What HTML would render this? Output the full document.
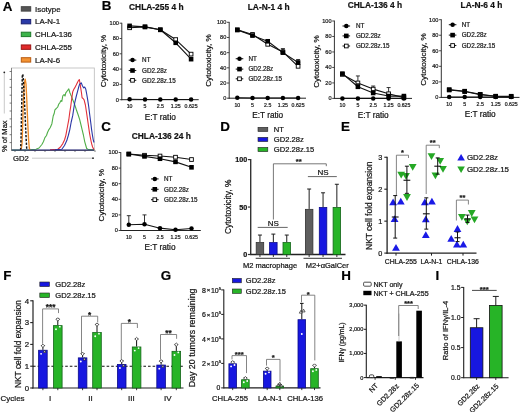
<!DOCTYPE html>
<html><head><meta charset="utf-8"><title>Figure</title>
<style>html,body{margin:0;padding:0;background:#fff;overflow:hidden;}svg{display:block;filter:blur(0.3px);} text{stroke:#1a1a1a;stroke-width:0.22px;}</style></head>
<body><svg width="520" height="412" viewBox="0 0 520 412" font-family="'Liberation Sans', Arial, Helvetica, sans-serif">
<rect width="520" height="412" fill="#fff"/>
<text x="2.70" y="10.60" font-size="13.4" text-anchor="start" font-weight="bold" fill="#000">A</text>
<text x="101.70" y="10.40" font-size="13.4" text-anchor="start" font-weight="bold" fill="#000">B</text>
<text x="101.30" y="131.00" font-size="13.4" text-anchor="start" font-weight="bold" fill="#000">C</text>
<text x="220.30" y="131.40" font-size="13.4" text-anchor="start" font-weight="bold" fill="#000">D</text>
<text x="341.10" y="131.00" font-size="13.4" text-anchor="start" font-weight="bold" fill="#000">E</text>
<text x="3.20" y="279.70" font-size="13.4" text-anchor="start" font-weight="bold" fill="#000">F</text>
<text x="160.80" y="280.00" font-size="13.4" text-anchor="start" font-weight="bold" fill="#000">G</text>
<text x="341.30" y="279.80" font-size="13.4" text-anchor="start" font-weight="bold" fill="#000">H</text>
<text x="435.50" y="279.60" font-size="13.4" text-anchor="start" font-weight="bold" fill="#000">I</text>
<rect x="21.30" y="6.70" width="9.40" height="4.40" fill="#555555" stroke="#444444" stroke-width="1.0"/>
<text x="35.10" y="11.70" font-size="7.9" text-anchor="start" fill="#111">Isotype</text>
<rect x="21.30" y="19.45" width="9.40" height="4.40" fill="#2a3aa8" stroke="#1a1f70" stroke-width="1.0"/>
<text x="35.10" y="24.45" font-size="7.9" text-anchor="start" fill="#111">LA-N-1</text>
<rect x="21.30" y="32.20" width="9.40" height="4.40" fill="#3cb44a" stroke="#1d7a2a" stroke-width="1.0"/>
<text x="35.10" y="37.20" font-size="7.9" text-anchor="start" fill="#111">CHLA-136</text>
<rect x="21.30" y="44.95" width="9.40" height="4.40" fill="#e02a2a" stroke="#9a1515" stroke-width="1.0"/>
<text x="35.10" y="49.95" font-size="7.9" text-anchor="start" fill="#111">CHLA-255</text>
<rect x="21.30" y="57.70" width="9.40" height="4.40" fill="#f39333" stroke="#b85a10" stroke-width="1.0"/>
<text x="35.10" y="62.70" font-size="7.9" text-anchor="start" fill="#111">LA-N-6</text>
<rect x="11.50" y="68.00" width="82.80" height="82.30" fill="none" stroke="#b9b9b9" stroke-width="0.8"/>
<line x1="11.50" y1="68.00" x2="11.50" y2="150.30" stroke="#777" stroke-width="0.8"/>
<line x1="9.60" y1="71.50" x2="11.50" y2="71.50" stroke="#444" stroke-width="0.7"/>
<line x1="9.60" y1="79.40" x2="11.50" y2="79.40" stroke="#444" stroke-width="0.7"/>
<line x1="9.60" y1="87.30" x2="11.50" y2="87.30" stroke="#444" stroke-width="0.7"/>
<line x1="9.60" y1="95.20" x2="11.50" y2="95.20" stroke="#444" stroke-width="0.7"/>
<line x1="9.60" y1="103.10" x2="11.50" y2="103.10" stroke="#444" stroke-width="0.7"/>
<line x1="9.60" y1="111.00" x2="11.50" y2="111.00" stroke="#444" stroke-width="0.7"/>
<line x1="9.60" y1="118.90" x2="11.50" y2="118.90" stroke="#444" stroke-width="0.7"/>
<line x1="9.60" y1="126.80" x2="11.50" y2="126.80" stroke="#444" stroke-width="0.7"/>
<line x1="9.60" y1="134.70" x2="11.50" y2="134.70" stroke="#444" stroke-width="0.7"/>
<line x1="9.60" y1="142.60" x2="11.50" y2="142.60" stroke="#444" stroke-width="0.7"/>
<line x1="11.50" y1="150.30" x2="94.30" y2="150.30" stroke="#333" stroke-width="0.9"/>
<line x1="15.00" y1="150.30" x2="15.00" y2="152.00" stroke="#444" stroke-width="0.7"/>
<line x1="25.00" y1="150.30" x2="25.00" y2="152.00" stroke="#444" stroke-width="0.7"/>
<line x1="35.00" y1="150.30" x2="35.00" y2="152.00" stroke="#444" stroke-width="0.7"/>
<line x1="45.00" y1="150.30" x2="45.00" y2="152.00" stroke="#444" stroke-width="0.7"/>
<line x1="55.00" y1="150.30" x2="55.00" y2="152.00" stroke="#444" stroke-width="0.7"/>
<line x1="65.00" y1="150.30" x2="65.00" y2="152.00" stroke="#444" stroke-width="0.7"/>
<line x1="75.00" y1="150.30" x2="75.00" y2="152.00" stroke="#444" stroke-width="0.7"/>
<line x1="85.00" y1="150.30" x2="85.00" y2="152.00" stroke="#444" stroke-width="0.7"/>
<line x1="95.00" y1="150.30" x2="95.00" y2="152.00" stroke="#444" stroke-width="0.7"/>
<polyline points="12.00,150.00 30.00,149.80 36.00,149.20 39.00,148.00 41.90,144.50 43.50,141.50 44.90,137.60 46.50,135.50 47.50,132.50 48.90,129.60 50.30,127.50 51.90,123.70 53.20,116.00 54.20,113.50 54.90,109.80 56.30,108.50 57.80,106.80 58.80,104.00 59.80,102.80 61.00,100.50 61.80,101.50 62.80,95.80 64.00,94.50 65.00,96.00 65.80,92.90 67.20,91.00 68.80,88.90 69.80,92.50 70.80,94.90 71.60,96.50 72.70,99.80 73.70,102.00 74.70,104.80 75.80,108.00 76.70,110.80 78.20,115.00 79.70,119.70 81.00,125.00 82.10,129.60 83.40,135.00 84.70,141.60 85.80,145.50 86.70,148.50 88.50,149.60 94.20,149.80" fill="none" stroke="#4fae48" stroke-width="1.1" stroke-linejoin="round"/>
<polyline points="50.00,149.80 57.80,149.20 60.50,147.00 62.80,143.60 64.50,140.00 65.80,135.60 67.40,127.00 68.80,119.70 69.80,112.00 70.80,105.80 71.80,98.00 72.70,91.90 73.70,89.50 74.70,87.90 76.20,85.00 77.70,81.90 78.50,80.50 79.30,79.50 80.00,83.00 80.70,87.90 81.50,93.00 82.10,97.80 83.10,98.50 84.10,99.80 85.40,105.00 86.70,113.70 88.20,124.00 89.60,133.60 90.60,139.00 91.60,143.60 92.60,147.00 93.60,149.00 94.20,149.60" fill="none" stroke="#e2303a" stroke-width="1.1" stroke-linejoin="round"/>
<polyline points="55.00,149.80 61.80,149.20 64.50,145.50 66.80,140.60 68.30,135.50 69.80,129.60 71.20,122.00 72.70,115.70 73.70,109.00 74.70,102.80 76.20,96.50 77.70,90.90 78.70,87.00 79.70,83.90 80.50,83.50 81.30,82.90 82.50,86.00 83.70,87.90 84.70,87.00 85.70,88.90 86.70,94.00 87.70,99.80 88.70,106.50 89.60,113.70 90.60,121.50 91.60,129.60 92.40,135.00 93.20,139.60 94.00,142.50" fill="none" stroke="#2a36a6" stroke-width="1.1" stroke-linejoin="round"/>
<polyline points="21.20,150.00 22.00,144.00 22.70,125.00 23.40,100.00 24.30,84.00 25.20,79.20 26.00,84.00 26.80,100.00 27.70,122.00 28.60,140.00 29.30,148.00 29.80,150.00" fill="none" stroke="#f08a26" stroke-width="1.35" stroke-linejoin="round"/>
<polyline points="20.60,150.00 21.00,140.00 21.50,115.00 22.00,90.00 22.30,76.00 22.80,74.20 23.40,80.00 24.40,100.00 25.40,122.00 26.20,140.00 26.80,150.00" fill="none" stroke="#111" stroke-width="1.45" stroke-linejoin="round" stroke-dasharray="2.3,1.5"/>
<line x1="11.80" y1="150.00" x2="94.00" y2="150.00" stroke="#2a2a8a" stroke-width="0.9"/>
<text x="6.50" y="152.00" font-size="7.6" text-anchor="start" fill="#111" transform="rotate(-90 6.50 152.00)">% of Max</text>
<line x1="4.30" y1="113.50" x2="4.30" y2="72.50" stroke="#bbb" stroke-width="0.8"/>
<circle cx="4.30" cy="72.30" r="0.9" fill="#222" stroke="none" stroke-width="0"/>
<text x="13.00" y="160.50" font-size="7.7" text-anchor="start" fill="#111">GD2</text>
<line x1="32.00" y1="158.20" x2="92.50" y2="158.20" stroke="#bbb" stroke-width="0.8"/>
<circle cx="93.00" cy="158.20" r="0.9" fill="#222" stroke="none" stroke-width="0"/>
<line x1="121.80" y1="22.80" x2="121.80" y2="100.20" stroke="#333" stroke-width="1.0"/>
<line x1="121.30" y1="99.70" x2="198.70" y2="99.70" stroke="#222" stroke-width="1.0"/>
<line x1="119.60" y1="99.70" x2="121.80" y2="99.70" stroke="#333" stroke-width="0.9"/>
<text x="118.90" y="101.60" font-size="5.6" text-anchor="end" fill="#222">0</text>
<line x1="119.60" y1="84.40" x2="121.80" y2="84.40" stroke="#333" stroke-width="0.9"/>
<text x="118.90" y="86.30" font-size="5.6" text-anchor="end" fill="#222">20</text>
<line x1="119.60" y1="69.10" x2="121.80" y2="69.10" stroke="#333" stroke-width="0.9"/>
<text x="118.90" y="71.00" font-size="5.6" text-anchor="end" fill="#222">40</text>
<line x1="119.60" y1="53.80" x2="121.80" y2="53.80" stroke="#333" stroke-width="0.9"/>
<text x="118.90" y="55.70" font-size="5.6" text-anchor="end" fill="#222">60</text>
<line x1="119.60" y1="38.50" x2="121.80" y2="38.50" stroke="#333" stroke-width="0.9"/>
<text x="118.90" y="40.40" font-size="5.6" text-anchor="end" fill="#222">80</text>
<line x1="119.60" y1="23.20" x2="121.80" y2="23.20" stroke="#333" stroke-width="0.9"/>
<text x="118.90" y="25.10" font-size="5.6" text-anchor="end" fill="#222">100</text>
<text x="129.60" y="108.10" font-size="5.2" text-anchor="middle" fill="#222">10</text>
<text x="145.00" y="108.10" font-size="5.2" text-anchor="middle" fill="#222">5</text>
<text x="160.30" y="108.10" font-size="5.2" text-anchor="middle" fill="#222">2.5</text>
<text x="175.70" y="108.10" font-size="5.2" text-anchor="middle" fill="#222">1.25</text>
<text x="191.10" y="108.10" font-size="5.2" text-anchor="middle" fill="#222">0.625</text>
<text x="160.30" y="119.60" font-size="8.25" text-anchor="middle" fill="#111">E:T ratio</text>
<text x="105.75" y="60.90" font-size="8.1" text-anchor="middle" fill="#111" transform="rotate(-90 105.75 60.90)">Cytotoxicity, %</text>
<text x="156.30" y="9.60" font-size="8.4" text-anchor="middle" font-weight="bold" fill="#111">CHLA-255 4 h</text>
<polyline points="129.60,27.79 145.00,26.87 160.30,29.78 175.70,39.57 191.10,54.11" fill="none" stroke="#111" stroke-width="1.1" stroke-linejoin="round"/>
<rect x="127.75" y="25.94" width="3.70" height="3.70" fill="#fff" stroke="#000" stroke-width="0.9"/>
<rect x="143.15" y="25.02" width="3.70" height="3.70" fill="#fff" stroke="#000" stroke-width="0.9"/>
<rect x="158.45" y="27.93" width="3.70" height="3.70" fill="#fff" stroke="#000" stroke-width="0.9"/>
<rect x="173.85" y="37.72" width="3.70" height="3.70" fill="#fff" stroke="#000" stroke-width="0.9"/>
<rect x="189.25" y="52.26" width="3.70" height="3.70" fill="#fff" stroke="#000" stroke-width="0.9"/>
<polyline points="129.60,25.88 145.00,26.87 160.30,29.78 175.70,42.78 191.10,59.16" fill="none" stroke="#111" stroke-width="1.1" stroke-linejoin="round"/>
<rect x="127.30" y="23.58" width="4.60" height="4.60" fill="#000" stroke="none" stroke-width="0"/>
<rect x="142.70" y="24.57" width="4.60" height="4.60" fill="#000" stroke="none" stroke-width="0"/>
<rect x="158.00" y="27.48" width="4.60" height="4.60" fill="#000" stroke="none" stroke-width="0"/>
<rect x="173.40" y="40.48" width="4.60" height="4.60" fill="#000" stroke="none" stroke-width="0"/>
<rect x="188.80" y="56.86" width="4.60" height="4.60" fill="#000" stroke="none" stroke-width="0"/>
<polyline points="129.60,99.32 145.00,99.47 160.30,99.47 175.70,99.47 191.10,99.47" fill="none" stroke="#111" stroke-width="1.1" stroke-linejoin="round"/>
<circle cx="129.60" cy="99.32" r="2.25" fill="#000" stroke="none" stroke-width="0"/>
<circle cx="145.00" cy="99.47" r="2.25" fill="#000" stroke="none" stroke-width="0"/>
<circle cx="160.30" cy="99.47" r="2.25" fill="#000" stroke="none" stroke-width="0"/>
<circle cx="175.70" cy="99.47" r="2.25" fill="#000" stroke="none" stroke-width="0"/>
<circle cx="191.10" cy="99.47" r="2.25" fill="#000" stroke="none" stroke-width="0"/>
<line x1="128.70" y1="60.10" x2="136.30" y2="60.10" stroke="#1e1e1e" stroke-width="1.1"/>
<circle cx="132.50" cy="60.10" r="2.25" fill="#000" stroke="none" stroke-width="0"/>
<text x="142.10" y="62.30" font-size="6.3" text-anchor="start" fill="#222">NT</text>
<line x1="128.70" y1="70.50" x2="136.30" y2="70.50" stroke="#1e1e1e" stroke-width="1.1"/>
<rect x="130.20" y="68.20" width="4.60" height="4.60" fill="#000" stroke="none" stroke-width="0"/>
<text x="142.10" y="72.70" font-size="6.3" text-anchor="start" fill="#222">GD2.28z</text>
<line x1="128.70" y1="80.30" x2="136.30" y2="80.30" stroke="#1e1e1e" stroke-width="1.1"/>
<rect x="130.65" y="78.45" width="3.70" height="3.70" fill="#fff" stroke="#000" stroke-width="0.9"/>
<text x="142.10" y="82.50" font-size="6.3" text-anchor="start" fill="#222">GD2.28z.15</text>
<line x1="229.20" y1="21.90" x2="229.20" y2="98.70" stroke="#333" stroke-width="1.0"/>
<line x1="228.70" y1="98.20" x2="306.00" y2="98.20" stroke="#222" stroke-width="1.0"/>
<line x1="227.00" y1="98.20" x2="229.20" y2="98.20" stroke="#333" stroke-width="0.9"/>
<text x="226.30" y="100.10" font-size="5.6" text-anchor="end" fill="#222">0</text>
<line x1="227.00" y1="83.02" x2="229.20" y2="83.02" stroke="#333" stroke-width="0.9"/>
<text x="226.30" y="84.92" font-size="5.6" text-anchor="end" fill="#222">20</text>
<line x1="227.00" y1="67.84" x2="229.20" y2="67.84" stroke="#333" stroke-width="0.9"/>
<text x="226.30" y="69.74" font-size="5.6" text-anchor="end" fill="#222">40</text>
<line x1="227.00" y1="52.66" x2="229.20" y2="52.66" stroke="#333" stroke-width="0.9"/>
<text x="226.30" y="54.56" font-size="5.6" text-anchor="end" fill="#222">60</text>
<line x1="227.00" y1="37.48" x2="229.20" y2="37.48" stroke="#333" stroke-width="0.9"/>
<text x="226.30" y="39.38" font-size="5.6" text-anchor="end" fill="#222">80</text>
<line x1="227.00" y1="22.30" x2="229.20" y2="22.30" stroke="#333" stroke-width="0.9"/>
<text x="226.30" y="24.20" font-size="5.6" text-anchor="end" fill="#222">100</text>
<text x="237.30" y="106.60" font-size="5.2" text-anchor="middle" fill="#222">10</text>
<text x="252.50" y="106.60" font-size="5.2" text-anchor="middle" fill="#222">5</text>
<text x="267.70" y="106.60" font-size="5.2" text-anchor="middle" fill="#222">2.5</text>
<text x="282.90" y="106.60" font-size="5.2" text-anchor="middle" fill="#222">1.25</text>
<text x="298.10" y="106.60" font-size="5.2" text-anchor="middle" fill="#222">0.625</text>
<text x="267.70" y="118.10" font-size="8.25" text-anchor="middle" fill="#111">E:T ratio</text>
<text x="211.15" y="60.50" font-size="8.1" text-anchor="middle" fill="#111" transform="rotate(-90 211.15 60.50)">Cytotoxicity, %</text>
<text x="268.70" y="9.50" font-size="8.4" text-anchor="middle" font-weight="bold" fill="#111">LA-N-1 4 h</text>
<line x1="282.90" y1="51.90" x2="282.90" y2="48.87" stroke="#1e1e1e" stroke-width="0.9"/>
<line x1="280.90" y1="48.87" x2="284.90" y2="48.87" stroke="#1e1e1e" stroke-width="0.9"/>
<line x1="298.10" y1="66.32" x2="298.10" y2="62.53" stroke="#1e1e1e" stroke-width="0.9"/>
<line x1="296.10" y1="62.53" x2="300.10" y2="62.53" stroke="#1e1e1e" stroke-width="0.9"/>
<polyline points="237.30,29.89 252.50,34.44 267.70,44.31 282.90,51.90 298.10,66.32" fill="none" stroke="#111" stroke-width="1.1" stroke-linejoin="round"/>
<rect x="235.45" y="28.04" width="3.70" height="3.70" fill="#fff" stroke="#000" stroke-width="0.9"/>
<rect x="250.65" y="32.59" width="3.70" height="3.70" fill="#fff" stroke="#000" stroke-width="0.9"/>
<rect x="265.85" y="42.46" width="3.70" height="3.70" fill="#fff" stroke="#000" stroke-width="0.9"/>
<rect x="281.05" y="50.05" width="3.70" height="3.70" fill="#fff" stroke="#000" stroke-width="0.9"/>
<rect x="296.25" y="64.47" width="3.70" height="3.70" fill="#fff" stroke="#000" stroke-width="0.9"/>
<line x1="282.90" y1="52.66" x2="282.90" y2="48.87" stroke="#1e1e1e" stroke-width="0.9"/>
<line x1="280.90" y1="48.87" x2="284.90" y2="48.87" stroke="#1e1e1e" stroke-width="0.9"/>
<line x1="298.10" y1="62.53" x2="298.10" y2="59.49" stroke="#1e1e1e" stroke-width="0.9"/>
<line x1="296.10" y1="59.49" x2="300.10" y2="59.49" stroke="#1e1e1e" stroke-width="0.9"/>
<polyline points="237.30,29.89 252.50,35.58 267.70,41.28 282.90,52.66 298.10,62.53" fill="none" stroke="#111" stroke-width="1.1" stroke-linejoin="round"/>
<rect x="235.00" y="27.59" width="4.60" height="4.60" fill="#000" stroke="none" stroke-width="0"/>
<rect x="250.20" y="33.28" width="4.60" height="4.60" fill="#000" stroke="none" stroke-width="0"/>
<rect x="265.40" y="38.98" width="4.60" height="4.60" fill="#000" stroke="none" stroke-width="0"/>
<rect x="280.60" y="50.36" width="4.60" height="4.60" fill="#000" stroke="none" stroke-width="0"/>
<rect x="295.80" y="60.23" width="4.60" height="4.60" fill="#000" stroke="none" stroke-width="0"/>
<polyline points="237.30,97.82 252.50,97.97 267.70,97.97 282.90,97.97 298.10,97.97" fill="none" stroke="#111" stroke-width="1.1" stroke-linejoin="round"/>
<circle cx="237.30" cy="97.82" r="2.25" fill="#000" stroke="none" stroke-width="0"/>
<circle cx="252.50" cy="97.97" r="2.25" fill="#000" stroke="none" stroke-width="0"/>
<circle cx="267.70" cy="97.97" r="2.25" fill="#000" stroke="none" stroke-width="0"/>
<circle cx="282.90" cy="97.97" r="2.25" fill="#000" stroke="none" stroke-width="0"/>
<circle cx="298.10" cy="97.97" r="2.25" fill="#000" stroke="none" stroke-width="0"/>
<line x1="235.70" y1="58.70" x2="243.30" y2="58.70" stroke="#1e1e1e" stroke-width="1.1"/>
<circle cx="239.50" cy="58.70" r="2.25" fill="#000" stroke="none" stroke-width="0"/>
<text x="248.40" y="60.90" font-size="6.3" text-anchor="start" fill="#222">NT</text>
<line x1="235.70" y1="69.10" x2="243.30" y2="69.10" stroke="#1e1e1e" stroke-width="1.1"/>
<rect x="237.20" y="66.80" width="4.60" height="4.60" fill="#000" stroke="none" stroke-width="0"/>
<text x="248.40" y="71.30" font-size="6.3" text-anchor="start" fill="#222">GD2.28z</text>
<line x1="235.70" y1="78.80" x2="243.30" y2="78.80" stroke="#1e1e1e" stroke-width="1.1"/>
<rect x="237.65" y="76.95" width="3.70" height="3.70" fill="#fff" stroke="#000" stroke-width="0.9"/>
<text x="248.40" y="81.00" font-size="6.3" text-anchor="start" fill="#222">GD2.28z.15</text>
<line x1="334.40" y1="20.60" x2="334.40" y2="98.90" stroke="#333" stroke-width="1.0"/>
<line x1="333.90" y1="98.40" x2="412.00" y2="98.40" stroke="#222" stroke-width="1.0"/>
<line x1="332.20" y1="98.40" x2="334.40" y2="98.40" stroke="#333" stroke-width="0.9"/>
<text x="331.50" y="100.30" font-size="5.6" text-anchor="end" fill="#222">0</text>
<line x1="332.20" y1="82.92" x2="334.40" y2="82.92" stroke="#333" stroke-width="0.9"/>
<text x="331.50" y="84.82" font-size="5.6" text-anchor="end" fill="#222">20</text>
<line x1="332.20" y1="67.44" x2="334.40" y2="67.44" stroke="#333" stroke-width="0.9"/>
<text x="331.50" y="69.34" font-size="5.6" text-anchor="end" fill="#222">40</text>
<line x1="332.20" y1="51.96" x2="334.40" y2="51.96" stroke="#333" stroke-width="0.9"/>
<text x="331.50" y="53.86" font-size="5.6" text-anchor="end" fill="#222">60</text>
<line x1="332.20" y1="36.48" x2="334.40" y2="36.48" stroke="#333" stroke-width="0.9"/>
<text x="331.50" y="38.38" font-size="5.6" text-anchor="end" fill="#222">80</text>
<line x1="332.20" y1="21.00" x2="334.40" y2="21.00" stroke="#333" stroke-width="0.9"/>
<text x="331.50" y="22.90" font-size="5.6" text-anchor="end" fill="#222">100</text>
<text x="342.40" y="106.80" font-size="5.2" text-anchor="middle" fill="#222">10</text>
<text x="357.90" y="106.80" font-size="5.2" text-anchor="middle" fill="#222">5</text>
<text x="373.20" y="106.80" font-size="5.2" text-anchor="middle" fill="#222">2.5</text>
<text x="388.60" y="106.80" font-size="5.2" text-anchor="middle" fill="#222">1.25</text>
<text x="403.90" y="106.80" font-size="5.2" text-anchor="middle" fill="#222">0.625</text>
<text x="373.20" y="118.30" font-size="8.25" text-anchor="middle" fill="#111">E:T ratio</text>
<text x="318.75" y="61.60" font-size="8.1" text-anchor="middle" fill="#111" transform="rotate(-90 318.75 61.60)">Cytotoxicity, %</text>
<text x="374.90" y="8.00" font-size="8.4" text-anchor="middle" font-weight="bold" fill="#111">CHLA-136 4 h</text>
<line x1="357.90" y1="82.92" x2="357.90" y2="75.95" stroke="#1e1e1e" stroke-width="0.9"/>
<line x1="355.90" y1="75.95" x2="359.90" y2="75.95" stroke="#1e1e1e" stroke-width="0.9"/>
<line x1="373.20" y1="89.11" x2="373.20" y2="86.02" stroke="#1e1e1e" stroke-width="0.9"/>
<line x1="371.20" y1="86.02" x2="375.20" y2="86.02" stroke="#1e1e1e" stroke-width="0.9"/>
<line x1="388.60" y1="93.76" x2="388.60" y2="87.56" stroke="#1e1e1e" stroke-width="0.9"/>
<line x1="386.60" y1="87.56" x2="390.60" y2="87.56" stroke="#1e1e1e" stroke-width="0.9"/>
<polyline points="342.40,74.41 357.90,82.92 373.20,89.11 388.60,93.76 403.90,97.63" fill="none" stroke="#111" stroke-width="1.1" stroke-linejoin="round"/>
<rect x="340.55" y="72.56" width="3.70" height="3.70" fill="#fff" stroke="#000" stroke-width="0.9"/>
<rect x="356.05" y="81.07" width="3.70" height="3.70" fill="#fff" stroke="#000" stroke-width="0.9"/>
<rect x="371.35" y="87.26" width="3.70" height="3.70" fill="#fff" stroke="#000" stroke-width="0.9"/>
<rect x="386.75" y="91.91" width="3.70" height="3.70" fill="#fff" stroke="#000" stroke-width="0.9"/>
<rect x="402.05" y="95.78" width="3.70" height="3.70" fill="#fff" stroke="#000" stroke-width="0.9"/>
<line x1="357.90" y1="86.79" x2="357.90" y2="83.69" stroke="#1e1e1e" stroke-width="0.9"/>
<line x1="355.90" y1="83.69" x2="359.90" y2="83.69" stroke="#1e1e1e" stroke-width="0.9"/>
<line x1="373.20" y1="92.98" x2="373.20" y2="90.66" stroke="#1e1e1e" stroke-width="0.9"/>
<line x1="371.20" y1="90.66" x2="375.20" y2="90.66" stroke="#1e1e1e" stroke-width="0.9"/>
<line x1="388.60" y1="96.08" x2="388.60" y2="94.53" stroke="#1e1e1e" stroke-width="0.9"/>
<line x1="386.60" y1="94.53" x2="390.60" y2="94.53" stroke="#1e1e1e" stroke-width="0.9"/>
<polyline points="342.40,73.63 357.90,86.79 373.20,92.98 388.60,96.08 403.90,96.08" fill="none" stroke="#111" stroke-width="1.1" stroke-linejoin="round"/>
<rect x="340.10" y="71.33" width="4.60" height="4.60" fill="#000" stroke="none" stroke-width="0"/>
<rect x="355.60" y="84.49" width="4.60" height="4.60" fill="#000" stroke="none" stroke-width="0"/>
<rect x="370.90" y="90.68" width="4.60" height="4.60" fill="#000" stroke="none" stroke-width="0"/>
<rect x="386.30" y="93.78" width="4.60" height="4.60" fill="#000" stroke="none" stroke-width="0"/>
<rect x="401.60" y="93.78" width="4.60" height="4.60" fill="#000" stroke="none" stroke-width="0"/>
<polyline points="342.40,98.40 357.90,98.40 373.20,98.40 388.60,98.40 403.90,98.40" fill="none" stroke="#111" stroke-width="1.1" stroke-linejoin="round"/>
<circle cx="342.40" cy="98.40" r="2.25" fill="#000" stroke="none" stroke-width="0"/>
<circle cx="357.90" cy="98.40" r="2.25" fill="#000" stroke="none" stroke-width="0"/>
<circle cx="373.20" cy="98.40" r="2.25" fill="#000" stroke="none" stroke-width="0"/>
<circle cx="388.60" cy="98.40" r="2.25" fill="#000" stroke="none" stroke-width="0"/>
<circle cx="403.90" cy="98.40" r="2.25" fill="#000" stroke="none" stroke-width="0"/>
<line x1="342.50" y1="26.00" x2="350.10" y2="26.00" stroke="#1e1e1e" stroke-width="1.1"/>
<circle cx="346.30" cy="26.00" r="2.25" fill="#000" stroke="none" stroke-width="0"/>
<text x="355.90" y="28.20" font-size="6.3" text-anchor="start" fill="#222">NT</text>
<line x1="342.50" y1="35.90" x2="350.10" y2="35.90" stroke="#1e1e1e" stroke-width="1.1"/>
<rect x="344.00" y="33.60" width="4.60" height="4.60" fill="#000" stroke="none" stroke-width="0"/>
<text x="355.90" y="38.10" font-size="6.3" text-anchor="start" fill="#222">GD2.28z</text>
<line x1="342.50" y1="46.00" x2="350.10" y2="46.00" stroke="#1e1e1e" stroke-width="1.1"/>
<rect x="344.45" y="44.15" width="3.70" height="3.70" fill="#fff" stroke="#000" stroke-width="0.9"/>
<text x="355.90" y="48.20" font-size="6.3" text-anchor="start" fill="#222">GD2.28z.15</text>
<line x1="441.30" y1="19.30" x2="441.30" y2="97.90" stroke="#333" stroke-width="1.0"/>
<line x1="440.80" y1="97.40" x2="519.50" y2="97.40" stroke="#222" stroke-width="1.0"/>
<line x1="439.10" y1="97.40" x2="441.30" y2="97.40" stroke="#333" stroke-width="0.9"/>
<text x="438.40" y="99.30" font-size="5.6" text-anchor="end" fill="#222">0</text>
<line x1="439.10" y1="81.86" x2="441.30" y2="81.86" stroke="#333" stroke-width="0.9"/>
<text x="438.40" y="83.76" font-size="5.6" text-anchor="end" fill="#222">20</text>
<line x1="439.10" y1="66.32" x2="441.30" y2="66.32" stroke="#333" stroke-width="0.9"/>
<text x="438.40" y="68.22" font-size="5.6" text-anchor="end" fill="#222">40</text>
<line x1="439.10" y1="50.78" x2="441.30" y2="50.78" stroke="#333" stroke-width="0.9"/>
<text x="438.40" y="52.68" font-size="5.6" text-anchor="end" fill="#222">60</text>
<line x1="439.10" y1="35.24" x2="441.30" y2="35.24" stroke="#333" stroke-width="0.9"/>
<text x="438.40" y="37.14" font-size="5.6" text-anchor="end" fill="#222">80</text>
<line x1="439.10" y1="19.70" x2="441.30" y2="19.70" stroke="#333" stroke-width="0.9"/>
<text x="438.40" y="21.60" font-size="5.6" text-anchor="end" fill="#222">100</text>
<text x="449.20" y="105.80" font-size="5.2" text-anchor="middle" fill="#222">10</text>
<text x="464.70" y="105.80" font-size="5.2" text-anchor="middle" fill="#222">5</text>
<text x="480.20" y="105.80" font-size="5.2" text-anchor="middle" fill="#222">2.5</text>
<text x="495.70" y="105.80" font-size="5.2" text-anchor="middle" fill="#222">1.25</text>
<text x="511.20" y="105.80" font-size="5.2" text-anchor="middle" fill="#222">0.625</text>
<text x="480.20" y="117.30" font-size="8.25" text-anchor="middle" fill="#111">E:T ratio</text>
<text x="425.95" y="59.50" font-size="8.1" text-anchor="middle" fill="#111" transform="rotate(-90 425.95 59.50)">Cytotoxicity, %</text>
<text x="481.50" y="7.50" font-size="8.4" text-anchor="middle" font-weight="bold" fill="#111">LA-N-6 4 h</text>
<polyline points="449.20,90.02 464.70,91.57 480.20,94.68 495.70,96.23 511.20,96.62" fill="none" stroke="#111" stroke-width="1.1" stroke-linejoin="round"/>
<rect x="447.35" y="88.17" width="3.70" height="3.70" fill="#fff" stroke="#000" stroke-width="0.9"/>
<rect x="462.85" y="89.72" width="3.70" height="3.70" fill="#fff" stroke="#000" stroke-width="0.9"/>
<rect x="478.35" y="92.83" width="3.70" height="3.70" fill="#fff" stroke="#000" stroke-width="0.9"/>
<rect x="493.85" y="94.38" width="3.70" height="3.70" fill="#fff" stroke="#000" stroke-width="0.9"/>
<rect x="509.35" y="94.77" width="3.70" height="3.70" fill="#fff" stroke="#000" stroke-width="0.9"/>
<polyline points="449.20,89.63 464.70,91.18 480.20,94.29 495.70,96.23 511.20,96.23" fill="none" stroke="#111" stroke-width="1.1" stroke-linejoin="round"/>
<rect x="446.90" y="87.33" width="4.60" height="4.60" fill="#000" stroke="none" stroke-width="0"/>
<rect x="462.40" y="88.88" width="4.60" height="4.60" fill="#000" stroke="none" stroke-width="0"/>
<rect x="477.90" y="91.99" width="4.60" height="4.60" fill="#000" stroke="none" stroke-width="0"/>
<rect x="493.40" y="93.93" width="4.60" height="4.60" fill="#000" stroke="none" stroke-width="0"/>
<rect x="508.90" y="93.93" width="4.60" height="4.60" fill="#000" stroke="none" stroke-width="0"/>
<polyline points="449.20,96.93 464.70,96.93 480.20,96.93 495.70,96.93 511.20,96.93" fill="none" stroke="#111" stroke-width="1.1" stroke-linejoin="round"/>
<circle cx="449.20" cy="96.93" r="2.25" fill="#000" stroke="none" stroke-width="0"/>
<circle cx="464.70" cy="96.93" r="2.25" fill="#000" stroke="none" stroke-width="0"/>
<circle cx="480.20" cy="96.93" r="2.25" fill="#000" stroke="none" stroke-width="0"/>
<circle cx="495.70" cy="96.93" r="2.25" fill="#000" stroke="none" stroke-width="0"/>
<circle cx="511.20" cy="96.93" r="2.25" fill="#000" stroke="none" stroke-width="0"/>
<line x1="448.80" y1="24.70" x2="456.40" y2="24.70" stroke="#1e1e1e" stroke-width="1.1"/>
<circle cx="452.60" cy="24.70" r="2.25" fill="#000" stroke="none" stroke-width="0"/>
<text x="461.70" y="26.90" font-size="6.3" text-anchor="start" fill="#222">NT</text>
<line x1="448.80" y1="35.10" x2="456.40" y2="35.10" stroke="#1e1e1e" stroke-width="1.1"/>
<rect x="450.30" y="32.80" width="4.60" height="4.60" fill="#000" stroke="none" stroke-width="0"/>
<text x="461.70" y="37.30" font-size="6.3" text-anchor="start" fill="#222">GD2.28z</text>
<line x1="448.80" y1="45.50" x2="456.40" y2="45.50" stroke="#1e1e1e" stroke-width="1.1"/>
<rect x="450.75" y="43.65" width="3.70" height="3.70" fill="#fff" stroke="#000" stroke-width="0.9"/>
<text x="461.70" y="47.70" font-size="6.3" text-anchor="start" fill="#222">GD2.28z.15</text>
<line x1="120.80" y1="152.10" x2="120.80" y2="231.00" stroke="#333" stroke-width="1.0"/>
<line x1="120.30" y1="230.50" x2="200.80" y2="230.50" stroke="#222" stroke-width="1.0"/>
<line x1="118.60" y1="230.50" x2="120.80" y2="230.50" stroke="#333" stroke-width="0.9"/>
<text x="117.90" y="232.40" font-size="5.6" text-anchor="end" fill="#222">0</text>
<line x1="118.60" y1="214.90" x2="120.80" y2="214.90" stroke="#333" stroke-width="0.9"/>
<text x="117.90" y="216.80" font-size="5.6" text-anchor="end" fill="#222">20</text>
<line x1="118.60" y1="199.30" x2="120.80" y2="199.30" stroke="#333" stroke-width="0.9"/>
<text x="117.90" y="201.20" font-size="5.6" text-anchor="end" fill="#222">40</text>
<line x1="118.60" y1="183.70" x2="120.80" y2="183.70" stroke="#333" stroke-width="0.9"/>
<text x="117.90" y="185.60" font-size="5.6" text-anchor="end" fill="#222">60</text>
<line x1="118.60" y1="168.10" x2="120.80" y2="168.10" stroke="#333" stroke-width="0.9"/>
<text x="117.90" y="170.00" font-size="5.6" text-anchor="end" fill="#222">80</text>
<line x1="118.60" y1="152.50" x2="120.80" y2="152.50" stroke="#333" stroke-width="0.9"/>
<text x="117.90" y="154.40" font-size="5.6" text-anchor="end" fill="#222">100</text>
<text x="128.80" y="238.90" font-size="5.2" text-anchor="middle" fill="#222">10</text>
<text x="144.50" y="238.90" font-size="5.2" text-anchor="middle" fill="#222">5</text>
<text x="160.00" y="238.90" font-size="5.2" text-anchor="middle" fill="#222">2.5</text>
<text x="175.50" y="238.90" font-size="5.2" text-anchor="middle" fill="#222">1.25</text>
<text x="191.50" y="238.90" font-size="5.2" text-anchor="middle" fill="#222">0.625</text>
<text x="160.00" y="250.40" font-size="8.25" text-anchor="middle" fill="#111">E:T ratio</text>
<text x="104.35" y="195.20" font-size="8.1" text-anchor="middle" fill="#111" transform="rotate(-90 104.35 195.20)">Cytotoxicity, %</text>
<text x="161.30" y="138.80" font-size="8.4" text-anchor="middle" font-weight="bold" fill="#111">CHLA-136 24 h</text>
<polyline points="128.80,154.06 144.50,155.23 160.00,156.01 175.50,157.18 191.50,159.52" fill="none" stroke="#111" stroke-width="1.1" stroke-linejoin="round"/>
<rect x="126.95" y="152.21" width="3.70" height="3.70" fill="#fff" stroke="#000" stroke-width="0.9"/>
<rect x="142.65" y="153.38" width="3.70" height="3.70" fill="#fff" stroke="#000" stroke-width="0.9"/>
<rect x="158.15" y="154.16" width="3.70" height="3.70" fill="#fff" stroke="#000" stroke-width="0.9"/>
<rect x="173.65" y="155.33" width="3.70" height="3.70" fill="#fff" stroke="#000" stroke-width="0.9"/>
<rect x="189.65" y="157.67" width="3.70" height="3.70" fill="#fff" stroke="#000" stroke-width="0.9"/>
<polyline points="128.80,154.06 144.50,156.40 160.00,158.74 175.50,161.86 191.50,167.32" fill="none" stroke="#111" stroke-width="1.1" stroke-linejoin="round"/>
<rect x="126.50" y="151.76" width="4.60" height="4.60" fill="#000" stroke="none" stroke-width="0"/>
<rect x="142.20" y="154.10" width="4.60" height="4.60" fill="#000" stroke="none" stroke-width="0"/>
<rect x="157.70" y="156.44" width="4.60" height="4.60" fill="#000" stroke="none" stroke-width="0"/>
<rect x="173.20" y="159.56" width="4.60" height="4.60" fill="#000" stroke="none" stroke-width="0"/>
<rect x="189.20" y="165.02" width="4.60" height="4.60" fill="#000" stroke="none" stroke-width="0"/>
<line x1="128.80" y1="224.73" x2="128.80" y2="215.68" stroke="#1e1e1e" stroke-width="0.9"/>
<line x1="126.80" y1="215.68" x2="130.80" y2="215.68" stroke="#1e1e1e" stroke-width="0.9"/>
<line x1="144.50" y1="224.26" x2="144.50" y2="214.90" stroke="#1e1e1e" stroke-width="0.9"/>
<line x1="142.50" y1="214.90" x2="146.50" y2="214.90" stroke="#1e1e1e" stroke-width="0.9"/>
<polyline points="128.80,224.73 144.50,224.26 160.00,228.16 175.50,229.72 191.50,228.55" fill="none" stroke="#111" stroke-width="1.1" stroke-linejoin="round"/>
<circle cx="128.80" cy="224.73" r="2.25" fill="#000" stroke="none" stroke-width="0"/>
<circle cx="144.50" cy="224.26" r="2.25" fill="#000" stroke="none" stroke-width="0"/>
<circle cx="160.00" cy="228.16" r="2.25" fill="#000" stroke="none" stroke-width="0"/>
<circle cx="175.50" cy="229.72" r="2.25" fill="#000" stroke="none" stroke-width="0"/>
<circle cx="191.50" cy="228.55" r="2.25" fill="#000" stroke="none" stroke-width="0"/>
<line x1="151.00" y1="178.90" x2="158.60" y2="178.90" stroke="#1e1e1e" stroke-width="1.1"/>
<circle cx="154.80" cy="178.90" r="2.25" fill="#000" stroke="none" stroke-width="0"/>
<text x="164.00" y="181.10" font-size="6.3" text-anchor="start" fill="#222">NT</text>
<line x1="151.00" y1="189.30" x2="158.60" y2="189.30" stroke="#1e1e1e" stroke-width="1.1"/>
<rect x="152.50" y="187.00" width="4.60" height="4.60" fill="#000" stroke="none" stroke-width="0"/>
<text x="164.00" y="191.50" font-size="6.3" text-anchor="start" fill="#222">GD2.28z</text>
<line x1="151.00" y1="199.70" x2="158.60" y2="199.70" stroke="#1e1e1e" stroke-width="1.1"/>
<rect x="152.95" y="197.85" width="3.70" height="3.70" fill="#fff" stroke="#000" stroke-width="0.9"/>
<text x="164.00" y="201.90" font-size="6.3" text-anchor="start" fill="#222">GD2.28z.15</text>
<line x1="250.70" y1="159.00" x2="250.70" y2="255.10" stroke="#333" stroke-width="1.4"/>
<line x1="250.10" y1="254.50" x2="345.50" y2="254.50" stroke="#222" stroke-width="1.4"/>
<line x1="247.90" y1="254.50" x2="250.70" y2="254.50" stroke="#333" stroke-width="1.2"/>
<line x1="247.90" y1="207.05" x2="250.70" y2="207.05" stroke="#333" stroke-width="1.2"/>
<line x1="247.90" y1="159.60" x2="250.70" y2="159.60" stroke="#333" stroke-width="1.2"/>
<text x="247.30" y="162.20" font-size="7.2" text-anchor="end" font-weight="bold" fill="#111">100</text>
<text x="247.30" y="209.65" font-size="7.2" text-anchor="end" font-weight="bold" fill="#111">50</text>
<text x="247.30" y="257.10" font-size="7.2" text-anchor="end" font-weight="bold" fill="#111">0</text>
<text x="231.00" y="206.80" font-size="8.4" text-anchor="middle" fill="#111" transform="rotate(-90 231.00 206.80)">Cytotoxicity, %</text>
<line x1="259.95" y1="242.16" x2="259.95" y2="235.05" stroke="#1e1e1e" stroke-width="1.0"/>
<line x1="257.95" y1="235.05" x2="261.95" y2="235.05" stroke="#1e1e1e" stroke-width="1.0"/>
<rect x="256.20" y="242.56" width="7.50" height="11.94" fill="#5e5e5e" stroke="#333" stroke-width="0.8"/>
<line x1="259.95" y1="254.50" x2="259.95" y2="257.00" stroke="#1e1e1e" stroke-width="0.9"/>
<line x1="273.35" y1="242.16" x2="273.35" y2="234.10" stroke="#1e1e1e" stroke-width="1.0"/>
<line x1="271.35" y1="234.10" x2="275.35" y2="234.10" stroke="#1e1e1e" stroke-width="1.0"/>
<rect x="269.60" y="242.56" width="7.50" height="11.94" fill="#1717e0" stroke="#0c0c8a" stroke-width="0.8"/>
<line x1="273.35" y1="254.50" x2="273.35" y2="257.00" stroke="#1e1e1e" stroke-width="0.9"/>
<line x1="286.75" y1="242.16" x2="286.75" y2="235.05" stroke="#1e1e1e" stroke-width="1.0"/>
<line x1="284.75" y1="235.05" x2="288.75" y2="235.05" stroke="#1e1e1e" stroke-width="1.0"/>
<rect x="283.00" y="242.56" width="7.50" height="11.94" fill="#27b427" stroke="#14641a" stroke-width="0.8"/>
<line x1="286.75" y1="254.50" x2="286.75" y2="257.00" stroke="#1e1e1e" stroke-width="0.9"/>
<line x1="309.15" y1="208.95" x2="309.15" y2="189.02" stroke="#1e1e1e" stroke-width="1.0"/>
<line x1="307.15" y1="189.02" x2="311.15" y2="189.02" stroke="#1e1e1e" stroke-width="1.0"/>
<rect x="305.40" y="209.35" width="7.50" height="45.15" fill="#5e5e5e" stroke="#333" stroke-width="0.8"/>
<line x1="309.15" y1="254.50" x2="309.15" y2="257.00" stroke="#1e1e1e" stroke-width="0.9"/>
<line x1="323.05" y1="207.05" x2="323.05" y2="192.81" stroke="#1e1e1e" stroke-width="1.0"/>
<line x1="321.05" y1="192.81" x2="325.05" y2="192.81" stroke="#1e1e1e" stroke-width="1.0"/>
<rect x="319.30" y="207.45" width="7.50" height="47.05" fill="#1717e0" stroke="#0c0c8a" stroke-width="0.8"/>
<line x1="323.05" y1="254.50" x2="323.05" y2="257.00" stroke="#1e1e1e" stroke-width="0.9"/>
<line x1="336.85" y1="207.05" x2="336.85" y2="184.27" stroke="#1e1e1e" stroke-width="1.0"/>
<line x1="334.85" y1="184.27" x2="338.85" y2="184.27" stroke="#1e1e1e" stroke-width="1.0"/>
<rect x="333.10" y="207.45" width="7.50" height="47.05" fill="#27b427" stroke="#14641a" stroke-width="0.8"/>
<line x1="336.85" y1="254.50" x2="336.85" y2="257.00" stroke="#1e1e1e" stroke-width="0.9"/>
<line x1="255.70" y1="258.30" x2="290.00" y2="258.30" stroke="#1e1e1e" stroke-width="0.9"/>
<line x1="303.50" y1="258.30" x2="342.00" y2="258.30" stroke="#1e1e1e" stroke-width="0.9"/>
<text x="270.00" y="267.50" font-size="7.5" text-anchor="middle" fill="#111">M2 macrophage</text>
<text x="327.30" y="267.50" font-size="7.5" text-anchor="middle" fill="#111">M2+αGalCer</text>
<rect x="258.00" y="127.30" width="9.80" height="4.20" fill="#5e5e5e" stroke="#222" stroke-width="0.6"/>
<text x="273.80" y="132.10" font-size="7.6" text-anchor="start" fill="#111">NT</text>
<rect x="258.00" y="137.35" width="9.80" height="4.20" fill="#1717e0" stroke="#222" stroke-width="0.6"/>
<text x="273.80" y="142.15" font-size="7.6" text-anchor="start" fill="#111">GD2.28z</text>
<rect x="258.00" y="147.40" width="9.80" height="4.20" fill="#27b427" stroke="#222" stroke-width="0.6"/>
<text x="273.80" y="152.20" font-size="7.6" text-anchor="start" fill="#111">GD2.28z.15</text>
<line x1="273.40" y1="163.80" x2="326.30" y2="163.80" stroke="#555" stroke-width="0.8"/>
<line x1="273.40" y1="163.80" x2="273.40" y2="219.50" stroke="#555" stroke-width="0.8"/>
<line x1="326.30" y1="163.80" x2="326.30" y2="166.20" stroke="#555" stroke-width="0.8"/>
<text x="298.80" y="164.15" font-size="7.6" text-anchor="middle" font-weight="bold" fill="#111">**</text>
<text x="323.00" y="174.60" font-size="8.0" text-anchor="middle" fill="#111">NS</text>
<line x1="307.90" y1="176.60" x2="336.80" y2="176.60" stroke="#555" stroke-width="0.9"/>
<text x="273.40" y="226.00" font-size="8.0" text-anchor="middle" fill="#111">NS</text>
<line x1="257.70" y1="227.40" x2="287.70" y2="227.40" stroke="#555" stroke-width="0.9"/>
<line x1="387.10" y1="156.75" x2="387.10" y2="253.70" stroke="#222" stroke-width="1.3"/>
<line x1="386.50" y1="253.10" x2="476.50" y2="253.10" stroke="#222" stroke-width="1.3"/>
<line x1="384.30" y1="253.10" x2="387.10" y2="253.10" stroke="#222" stroke-width="1.1"/>
<text x="382.30" y="255.70" font-size="7.3" text-anchor="end" fill="#111">0</text>
<line x1="384.30" y1="221.15" x2="387.10" y2="221.15" stroke="#222" stroke-width="1.1"/>
<text x="382.30" y="223.75" font-size="7.3" text-anchor="end" fill="#111">1</text>
<line x1="384.30" y1="189.20" x2="387.10" y2="189.20" stroke="#222" stroke-width="1.1"/>
<text x="382.30" y="191.80" font-size="7.3" text-anchor="end" fill="#111">2</text>
<line x1="384.30" y1="157.25" x2="387.10" y2="157.25" stroke="#222" stroke-width="1.1"/>
<text x="382.30" y="159.85" font-size="7.3" text-anchor="end" fill="#111">3</text>
<line x1="396.00" y1="253.10" x2="396.00" y2="255.60" stroke="#1e1e1e" stroke-width="1.0"/>
<line x1="431.50" y1="253.10" x2="431.50" y2="255.60" stroke="#1e1e1e" stroke-width="1.0"/>
<line x1="463.00" y1="253.10" x2="463.00" y2="255.60" stroke="#1e1e1e" stroke-width="1.0"/>
<text x="372.50" y="205.70" font-size="8.45" text-anchor="middle" fill="#111" transform="rotate(-90 372.50 205.70)">NKT cell fold expansion</text>
<text x="400.80" y="264.30" font-size="6.9" text-anchor="middle" fill="#111">CHLA-255</text>
<text x="431.40" y="264.30" font-size="6.9" text-anchor="middle" fill="#111">LA-N-1</text>
<text x="462.80" y="264.30" font-size="6.9" text-anchor="middle" fill="#111">CHLA-136</text>
<line x1="396.40" y1="155.20" x2="408.50" y2="155.20" stroke="#666" stroke-width="0.8"/>
<line x1="396.40" y1="155.20" x2="396.40" y2="195.40" stroke="#666" stroke-width="0.8"/>
<line x1="408.50" y1="155.20" x2="408.50" y2="158.00" stroke="#666" stroke-width="0.8"/>
<text x="402.45" y="154.85" font-size="7.4" text-anchor="middle" font-weight="bold" fill="#111">*</text>
<line x1="426.20" y1="145.20" x2="439.30" y2="145.20" stroke="#666" stroke-width="0.8"/>
<line x1="426.20" y1="145.20" x2="426.20" y2="194.00" stroke="#666" stroke-width="0.8"/>
<line x1="439.30" y1="145.20" x2="439.30" y2="148.20" stroke="#666" stroke-width="0.8"/>
<text x="432.75" y="145.25" font-size="7.4" text-anchor="middle" font-weight="bold" fill="#111">**</text>
<line x1="456.40" y1="200.10" x2="468.40" y2="200.10" stroke="#666" stroke-width="0.8"/>
<line x1="456.40" y1="200.10" x2="456.40" y2="220.50" stroke="#666" stroke-width="0.8"/>
<line x1="468.40" y1="200.10" x2="468.40" y2="204.50" stroke="#666" stroke-width="0.8"/>
<text x="462.40" y="199.75" font-size="7.4" text-anchor="middle" font-weight="bold" fill="#111">**</text>
<polygon points="389.20,205.37 397.00,205.37 393.10,198.59" fill="#1a1ae6"/>
<polygon points="396.90,204.41 404.70,204.41 400.80,197.63" fill="#1a1ae6"/>
<polygon points="390.70,221.99 398.50,221.99 394.60,215.20" fill="#1a1ae6"/>
<polygon points="392.10,250.74 399.90,250.74 396.00,243.96" fill="#1a1ae6"/>
<line x1="395.20" y1="238.08" x2="395.20" y2="195.59" stroke="#111" stroke-width="1.0"/>
<line x1="391.80" y1="217.00" x2="398.60" y2="217.00" stroke="#111" stroke-width="1.1"/>
<line x1="393.20" y1="238.08" x2="397.20" y2="238.08" stroke="#111" stroke-width="1.0"/>
<line x1="393.20" y1="195.59" x2="397.20" y2="195.59" stroke="#111" stroke-width="1.0"/>
<polygon points="397.30,171.75 405.10,171.75 401.20,178.53" fill="#25a825"/>
<polygon points="408.80,164.08 416.60,164.08 412.70,170.87" fill="#25a825"/>
<polygon points="402.10,173.03 409.90,173.03 406.00,179.81" fill="#25a825"/>
<polygon points="403.10,194.11 410.90,194.11 407.00,200.90" fill="#25a825"/>
<line x1="406.90" y1="193.35" x2="406.90" y2="166.20" stroke="#111" stroke-width="1.0"/>
<line x1="403.50" y1="180.25" x2="410.30" y2="180.25" stroke="#111" stroke-width="1.1"/>
<line x1="404.90" y1="193.35" x2="408.90" y2="193.35" stroke="#111" stroke-width="1.0"/>
<line x1="404.90" y1="166.20" x2="408.90" y2="166.20" stroke="#111" stroke-width="1.0"/>
<polygon points="420.90,205.37 428.70,205.37 424.80,198.59" fill="#1a1ae6"/>
<polygon points="428.00,204.41 435.80,204.41 431.90,197.63" fill="#1a1ae6"/>
<polygon points="421.90,222.31 429.70,222.31 425.80,215.52" fill="#1a1ae6"/>
<polygon points="421.90,237.96 429.70,237.96 425.80,231.18" fill="#1a1ae6"/>
<line x1="426.30" y1="229.14" x2="426.30" y2="197.83" stroke="#111" stroke-width="1.0"/>
<line x1="422.90" y1="213.80" x2="429.70" y2="213.80" stroke="#111" stroke-width="1.1"/>
<line x1="424.30" y1="229.14" x2="428.30" y2="229.14" stroke="#111" stroke-width="1.0"/>
<line x1="424.30" y1="197.83" x2="428.30" y2="197.83" stroke="#111" stroke-width="1.0"/>
<polygon points="427.60,153.22 435.40,153.22 431.50,160.00" fill="#25a825"/>
<polygon points="436.30,158.01 444.10,158.01 440.20,164.80" fill="#25a825"/>
<polygon points="439.10,166.00 446.90,166.00 443.00,172.78" fill="#25a825"/>
<polygon points="431.50,172.39 439.30,172.39 435.40,179.17" fill="#25a825"/>
<line x1="437.70" y1="174.18" x2="437.70" y2="157.89" stroke="#111" stroke-width="1.0"/>
<line x1="434.30" y1="166.20" x2="441.10" y2="166.20" stroke="#111" stroke-width="1.1"/>
<line x1="435.70" y1="174.18" x2="439.70" y2="174.18" stroke="#111" stroke-width="1.0"/>
<line x1="435.70" y1="157.89" x2="439.70" y2="157.89" stroke="#111" stroke-width="1.0"/>
<polygon points="453.60,231.89 461.40,231.89 457.50,225.11" fill="#1a1ae6"/>
<polygon points="447.30,241.80 455.10,241.80 451.20,235.01" fill="#1a1ae6"/>
<polygon points="453.00,247.55 460.80,247.55 456.90,240.76" fill="#1a1ae6"/>
<polygon points="459.40,247.55 467.20,247.55 463.30,240.76" fill="#1a1ae6"/>
<line x1="457.50" y1="241.60" x2="457.50" y2="232.01" stroke="#111" stroke-width="1.0"/>
<line x1="454.50" y1="237.76" x2="460.50" y2="237.76" stroke="#111" stroke-width="1.1"/>
<line x1="455.50" y1="241.60" x2="459.50" y2="241.60" stroke="#111" stroke-width="1.0"/>
<line x1="455.50" y1="232.01" x2="459.50" y2="232.01" stroke="#111" stroke-width="1.0"/>
<polygon points="458.00,213.92 465.80,213.92 461.90,220.71" fill="#25a825"/>
<polygon points="467.80,210.09 475.60,210.09 471.70,216.88" fill="#25a825"/>
<polygon points="470.60,216.48 478.40,216.48 474.50,223.26" fill="#25a825"/>
<polygon points="463.40,218.40 471.20,218.40 467.30,225.18" fill="#25a825"/>
<line x1="467.50" y1="222.43" x2="467.50" y2="215.08" stroke="#111" stroke-width="1.0"/>
<line x1="464.50" y1="218.91" x2="470.50" y2="218.91" stroke="#111" stroke-width="1.1"/>
<line x1="465.50" y1="222.43" x2="469.50" y2="222.43" stroke="#111" stroke-width="1.0"/>
<line x1="465.50" y1="215.08" x2="469.50" y2="215.08" stroke="#111" stroke-width="1.0"/>
<polygon points="457.30,160.61 464.90,160.61 461.10,153.99" fill="#1a1ae6"/>
<polygon points="457.30,166.49 464.90,166.49 461.10,173.11" fill="#25a825"/>
<text x="466.90" y="160.40" font-size="7.9" text-anchor="start" fill="#111">GD2.28z</text>
<text x="466.90" y="172.10" font-size="7.9" text-anchor="start" fill="#111">GD2.28z.15</text>
<line x1="33.00" y1="300.30" x2="33.00" y2="388.60" stroke="#222" stroke-width="1.2"/>
<line x1="32.40" y1="388.00" x2="183.50" y2="388.00" stroke="#222" stroke-width="1.2"/>
<line x1="30.20" y1="388.00" x2="33.00" y2="388.00" stroke="#222" stroke-width="1.1"/>
<text x="29.20" y="390.80" font-size="7.8" text-anchor="end" fill="#111">0</text>
<line x1="30.20" y1="366.20" x2="33.00" y2="366.20" stroke="#222" stroke-width="1.1"/>
<text x="29.20" y="369.00" font-size="7.8" text-anchor="end" fill="#111">1</text>
<line x1="30.20" y1="344.40" x2="33.00" y2="344.40" stroke="#222" stroke-width="1.1"/>
<text x="29.20" y="347.20" font-size="7.8" text-anchor="end" fill="#111">2</text>
<line x1="30.20" y1="322.60" x2="33.00" y2="322.60" stroke="#222" stroke-width="1.1"/>
<text x="29.20" y="325.40" font-size="7.8" text-anchor="end" fill="#111">3</text>
<line x1="30.20" y1="300.80" x2="33.00" y2="300.80" stroke="#222" stroke-width="1.1"/>
<text x="29.20" y="303.60" font-size="7.8" text-anchor="end" fill="#111">4</text>
<text x="20.80" y="344.10" font-size="8.4" text-anchor="middle" fill="#111" transform="rotate(-90 20.80 344.10)">NKT cell fold expansion</text>
<line x1="33.00" y1="366.20" x2="183.50" y2="366.20" stroke="#111" stroke-width="1.1" stroke-dasharray="2.6,2"/>
<line x1="42.90" y1="349.85" x2="42.90" y2="345.49" stroke="#111" stroke-width="1.0"/>
<line x1="41.10" y1="345.49" x2="44.70" y2="345.49" stroke="#111" stroke-width="1.0"/>
<rect x="38.60" y="350.25" width="8.60" height="37.75" fill="#1717e0" stroke="#0c0c8a" stroke-width="0.8"/>
<polygon points="42.90,344.09 44.60,345.79 42.90,347.49 41.20,345.79" fill="#fff" stroke="#222" stroke-width="0.7"/>
<circle cx="41.10" cy="353.85" r="0.95" fill="#fff" stroke="none" stroke-width="0"/>
<polygon points="43.40,352.39 46.00,352.39 44.70,350.05" fill="#fff" stroke="#222" stroke-width="0.7"/>
<line x1="42.90" y1="388.00" x2="42.90" y2="390.20" stroke="#1e1e1e" stroke-width="0.9"/>
<line x1="57.80" y1="325.22" x2="57.80" y2="319.11" stroke="#111" stroke-width="1.0"/>
<line x1="56.00" y1="319.11" x2="59.60" y2="319.11" stroke="#111" stroke-width="1.0"/>
<rect x="53.50" y="325.62" width="8.60" height="62.38" fill="#27b427" stroke="#14641a" stroke-width="0.8"/>
<polygon points="57.80,317.71 59.50,319.41 57.80,321.11 56.10,319.41" fill="#fff" stroke="#222" stroke-width="0.7"/>
<circle cx="56.00" cy="329.22" r="0.95" fill="#fff" stroke="none" stroke-width="0"/>
<circle cx="59.80" cy="326.72" r="0.9" fill="#fff" stroke="none" stroke-width="0"/>
<line x1="57.80" y1="388.00" x2="57.80" y2="390.20" stroke="#1e1e1e" stroke-width="0.9"/>
<line x1="82.60" y1="357.48" x2="82.60" y2="353.56" stroke="#111" stroke-width="1.0"/>
<line x1="80.80" y1="353.56" x2="84.40" y2="353.56" stroke="#111" stroke-width="1.0"/>
<rect x="78.30" y="357.88" width="8.60" height="30.12" fill="#1717e0" stroke="#0c0c8a" stroke-width="0.8"/>
<polygon points="82.60,352.16 84.30,353.86 82.60,355.56 80.90,353.86" fill="#fff" stroke="#222" stroke-width="0.7"/>
<circle cx="80.80" cy="361.48" r="0.95" fill="#fff" stroke="none" stroke-width="0"/>
<polygon points="83.10,360.02 85.70,360.02 84.40,357.68" fill="#fff" stroke="#222" stroke-width="0.7"/>
<line x1="82.60" y1="388.00" x2="82.60" y2="390.20" stroke="#1e1e1e" stroke-width="0.9"/>
<line x1="97.00" y1="332.19" x2="97.00" y2="324.34" stroke="#111" stroke-width="1.0"/>
<line x1="95.20" y1="324.34" x2="98.80" y2="324.34" stroke="#111" stroke-width="1.0"/>
<rect x="92.70" y="332.59" width="8.60" height="55.41" fill="#27b427" stroke="#14641a" stroke-width="0.8"/>
<polygon points="97.00,322.94 98.70,324.64 97.00,326.34 95.30,324.64" fill="#fff" stroke="#222" stroke-width="0.7"/>
<circle cx="95.20" cy="336.19" r="0.95" fill="#fff" stroke="none" stroke-width="0"/>
<circle cx="99.00" cy="333.69" r="0.9" fill="#fff" stroke="none" stroke-width="0"/>
<line x1="97.00" y1="388.00" x2="97.00" y2="390.20" stroke="#1e1e1e" stroke-width="0.9"/>
<line x1="121.70" y1="364.02" x2="121.70" y2="360.75" stroke="#111" stroke-width="1.0"/>
<line x1="119.90" y1="360.75" x2="123.50" y2="360.75" stroke="#111" stroke-width="1.0"/>
<rect x="117.40" y="364.42" width="8.60" height="23.58" fill="#1717e0" stroke="#0c0c8a" stroke-width="0.8"/>
<polygon points="121.70,359.35 123.40,361.05 121.70,362.75 120.00,361.05" fill="#fff" stroke="#222" stroke-width="0.7"/>
<circle cx="119.90" cy="368.02" r="0.95" fill="#fff" stroke="none" stroke-width="0"/>
<polygon points="122.20,366.56 124.80,366.56 123.50,364.22" fill="#fff" stroke="#222" stroke-width="0.7"/>
<line x1="121.70" y1="388.00" x2="121.70" y2="390.20" stroke="#1e1e1e" stroke-width="0.9"/>
<line x1="136.60" y1="346.58" x2="136.60" y2="338.73" stroke="#111" stroke-width="1.0"/>
<line x1="134.80" y1="338.73" x2="138.40" y2="338.73" stroke="#111" stroke-width="1.0"/>
<rect x="132.30" y="346.98" width="8.60" height="41.02" fill="#27b427" stroke="#14641a" stroke-width="0.8"/>
<polygon points="136.60,337.33 138.30,339.03 136.60,340.73 134.90,339.03" fill="#fff" stroke="#222" stroke-width="0.7"/>
<circle cx="134.80" cy="350.58" r="0.95" fill="#fff" stroke="none" stroke-width="0"/>
<circle cx="138.60" cy="348.08" r="0.9" fill="#fff" stroke="none" stroke-width="0"/>
<line x1="136.60" y1="388.00" x2="136.60" y2="390.20" stroke="#1e1e1e" stroke-width="0.9"/>
<line x1="161.10" y1="364.67" x2="161.10" y2="360.97" stroke="#111" stroke-width="1.0"/>
<line x1="159.30" y1="360.97" x2="162.90" y2="360.97" stroke="#111" stroke-width="1.0"/>
<rect x="156.80" y="365.07" width="8.60" height="22.93" fill="#1717e0" stroke="#0c0c8a" stroke-width="0.8"/>
<polygon points="161.10,359.57 162.80,361.27 161.10,362.97 159.40,361.27" fill="#fff" stroke="#222" stroke-width="0.7"/>
<circle cx="159.30" cy="368.67" r="0.95" fill="#fff" stroke="none" stroke-width="0"/>
<polygon points="161.60,367.21 164.20,367.21 162.90,364.87" fill="#fff" stroke="#222" stroke-width="0.7"/>
<line x1="161.10" y1="388.00" x2="161.10" y2="390.20" stroke="#1e1e1e" stroke-width="0.9"/>
<line x1="176.30" y1="350.94" x2="176.30" y2="344.40" stroke="#111" stroke-width="1.0"/>
<line x1="174.50" y1="344.40" x2="178.10" y2="344.40" stroke="#111" stroke-width="1.0"/>
<rect x="172.00" y="351.34" width="8.60" height="36.66" fill="#27b427" stroke="#14641a" stroke-width="0.8"/>
<polygon points="176.30,343.00 178.00,344.70 176.30,346.40 174.60,344.70" fill="#fff" stroke="#222" stroke-width="0.7"/>
<circle cx="174.50" cy="354.94" r="0.95" fill="#fff" stroke="none" stroke-width="0"/>
<circle cx="178.30" cy="352.44" r="0.9" fill="#fff" stroke="none" stroke-width="0"/>
<line x1="176.30" y1="388.00" x2="176.30" y2="390.20" stroke="#1e1e1e" stroke-width="0.9"/>
<text x="50.00" y="401.20" font-size="8.0" text-anchor="middle" fill="#111">I</text>
<text x="90.60" y="401.20" font-size="8.0" text-anchor="middle" fill="#111">II</text>
<text x="131.40" y="401.20" font-size="8.0" text-anchor="middle" fill="#111">III</text>
<text x="167.80" y="401.20" font-size="8.0" text-anchor="middle" fill="#111">IV</text>
<text x="0.60" y="400.60" font-size="8.0" text-anchor="start" fill="#111">Cycles</text>
<line x1="42.60" y1="308.90" x2="58.50" y2="308.90" stroke="#666" stroke-width="0.8"/>
<line x1="42.60" y1="308.90" x2="42.60" y2="343.80" stroke="#666" stroke-width="0.8"/>
<line x1="58.50" y1="308.90" x2="58.50" y2="313.10" stroke="#666" stroke-width="0.8"/>
<text x="50.55" y="309.86" font-size="8.2" text-anchor="middle" font-weight="bold" fill="#111">***</text>
<line x1="81.50" y1="316.20" x2="97.70" y2="316.20" stroke="#666" stroke-width="0.8"/>
<line x1="81.50" y1="316.20" x2="81.50" y2="353.00" stroke="#666" stroke-width="0.8"/>
<line x1="97.70" y1="316.20" x2="97.70" y2="322.50" stroke="#666" stroke-width="0.8"/>
<text x="89.60" y="317.56" font-size="8.2" text-anchor="middle" font-weight="bold" fill="#111">*</text>
<line x1="121.30" y1="323.40" x2="137.40" y2="323.40" stroke="#666" stroke-width="0.8"/>
<line x1="121.30" y1="323.40" x2="121.30" y2="360.00" stroke="#666" stroke-width="0.8"/>
<line x1="137.40" y1="323.40" x2="137.40" y2="328.00" stroke="#666" stroke-width="0.8"/>
<text x="129.35" y="324.86" font-size="8.2" text-anchor="middle" font-weight="bold" fill="#111">*</text>
<line x1="160.50" y1="334.50" x2="176.60" y2="334.50" stroke="#666" stroke-width="0.8"/>
<line x1="160.50" y1="334.50" x2="160.50" y2="359.50" stroke="#666" stroke-width="0.8"/>
<line x1="176.60" y1="334.50" x2="176.60" y2="338.80" stroke="#666" stroke-width="0.8"/>
<text x="168.55" y="335.96" font-size="8.2" text-anchor="middle" font-weight="bold" fill="#111">**</text>
<rect x="39.80" y="282.00" width="9.70" height="4.60" fill="#1717e0" stroke="#222" stroke-width="0.6"/>
<text x="55.30" y="287.05" font-size="7.6" text-anchor="start" fill="#111">GD2.28z</text>
<rect x="39.80" y="293.00" width="9.70" height="4.60" fill="#27b427" stroke="#222" stroke-width="0.6"/>
<text x="55.30" y="298.05" font-size="7.6" text-anchor="start" fill="#111">GD2.28z.15</text>
<line x1="223.80" y1="289.60" x2="223.80" y2="388.40" stroke="#1e1e1e" stroke-width="1.1"/>
<line x1="223.80" y1="387.90" x2="320.50" y2="387.90" stroke="#1e1e1e" stroke-width="1.1"/>
<line x1="221.20" y1="387.90" x2="223.80" y2="387.90" stroke="#1e1e1e" stroke-width="1.0"/>
<text x="220.40" y="390.30" font-size="6.8" text-anchor="end" fill="#111">0</text>
<line x1="221.20" y1="363.40" x2="223.80" y2="363.40" stroke="#1e1e1e" stroke-width="1.0"/>
<text x="221.20" y="366.00" font-size="7.0" text-anchor="end" fill="#111">2<tspan font-size="6.0" dx="0.8" dy="-0.3">×</tspan><tspan font-size="7.0" dx="0.8" dy="0.3">10</tspan><tspan font-size="4.4" dy="-3.0">5</tspan></text>
<line x1="221.20" y1="338.90" x2="223.80" y2="338.90" stroke="#1e1e1e" stroke-width="1.0"/>
<text x="221.20" y="341.50" font-size="7.0" text-anchor="end" fill="#111">4<tspan font-size="6.0" dx="0.8" dy="-0.3">×</tspan><tspan font-size="7.0" dx="0.8" dy="0.3">10</tspan><tspan font-size="4.4" dy="-3.0">5</tspan></text>
<line x1="221.20" y1="314.40" x2="223.80" y2="314.40" stroke="#1e1e1e" stroke-width="1.0"/>
<text x="221.20" y="317.00" font-size="7.0" text-anchor="end" fill="#111">6<tspan font-size="6.0" dx="0.8" dy="-0.3">×</tspan><tspan font-size="7.0" dx="0.8" dy="0.3">10</tspan><tspan font-size="4.4" dy="-3.0">5</tspan></text>
<line x1="221.20" y1="289.90" x2="223.80" y2="289.90" stroke="#1e1e1e" stroke-width="1.0"/>
<text x="221.20" y="292.50" font-size="7.0" text-anchor="end" fill="#111">8<tspan font-size="6.0" dx="0.8" dy="-0.3">×</tspan><tspan font-size="7.0" dx="0.8" dy="0.3">10</tspan><tspan font-size="4.4" dy="-3.0">5</tspan></text>
<text x="194.80" y="337.90" font-size="8.85" text-anchor="middle" fill="#111" transform="rotate(-90 194.80 337.90)">Day 20 tumors remaining</text>
<line x1="232.70" y1="363.40" x2="232.70" y2="361.93" stroke="#111" stroke-width="1.0"/>
<line x1="230.90" y1="361.93" x2="234.50" y2="361.93" stroke="#111" stroke-width="1.0"/>
<rect x="228.90" y="363.80" width="7.60" height="24.10" fill="#1717e0" stroke="#0c0c8a" stroke-width="0.8"/>
<polygon points="232.70,360.53 234.40,362.23 232.70,363.93 231.00,362.23" fill="#fff" stroke="#222" stroke-width="0.7"/>
<circle cx="231.10" cy="366.40" r="0.95" fill="#fff" stroke="none" stroke-width="0"/>
<circle cx="234.50" cy="365.00" r="0.95" fill="#fff" stroke="none" stroke-width="0"/>
<line x1="232.70" y1="387.90" x2="232.70" y2="390.10" stroke="#1e1e1e" stroke-width="0.9"/>
<line x1="245.40" y1="379.32" x2="245.40" y2="377.85" stroke="#111" stroke-width="1.0"/>
<line x1="243.60" y1="377.85" x2="247.20" y2="377.85" stroke="#111" stroke-width="1.0"/>
<rect x="241.60" y="379.72" width="7.60" height="8.17" fill="#27b427" stroke="#14641a" stroke-width="0.8"/>
<polygon points="245.40,376.45 247.10,378.15 245.40,379.85 243.70,378.15" fill="#fff" stroke="#222" stroke-width="0.7"/>
<circle cx="243.80" cy="382.32" r="0.95" fill="#fff" stroke="none" stroke-width="0"/>
<circle cx="247.20" cy="380.93" r="0.95" fill="#fff" stroke="none" stroke-width="0"/>
<line x1="245.40" y1="387.90" x2="245.40" y2="390.10" stroke="#1e1e1e" stroke-width="0.9"/>
<line x1="267.20" y1="370.75" x2="267.20" y2="368.30" stroke="#111" stroke-width="1.0"/>
<line x1="265.40" y1="368.30" x2="269.00" y2="368.30" stroke="#111" stroke-width="1.0"/>
<rect x="263.40" y="371.15" width="7.60" height="16.75" fill="#1717e0" stroke="#0c0c8a" stroke-width="0.8"/>
<polygon points="267.20,366.90 268.90,368.60 267.20,370.30 265.50,368.60" fill="#fff" stroke="#222" stroke-width="0.7"/>
<circle cx="265.60" cy="373.75" r="0.95" fill="#fff" stroke="none" stroke-width="0"/>
<circle cx="269.00" cy="372.35" r="0.95" fill="#fff" stroke="none" stroke-width="0"/>
<line x1="267.20" y1="387.90" x2="267.20" y2="390.10" stroke="#1e1e1e" stroke-width="0.9"/>
<line x1="279.80" y1="385.69" x2="279.80" y2="384.47" stroke="#111" stroke-width="1.0"/>
<line x1="278.00" y1="384.47" x2="281.60" y2="384.47" stroke="#111" stroke-width="1.0"/>
<rect x="276.00" y="386.09" width="7.60" height="1.80" fill="#27b427" stroke="#14641a" stroke-width="0.8"/>
<polygon points="276.90,385.96 279.70,385.96 278.30,383.44" fill="#fff" stroke="#222" stroke-width="0.7"/>
<polygon points="279.90,386.81 282.70,386.81 281.30,384.30" fill="#fff" stroke="#222" stroke-width="0.7"/>
<polygon points="278.40,384.73 281.20,384.73 279.80,382.21" fill="#fff" stroke="#222" stroke-width="0.7"/>
<line x1="279.80" y1="387.90" x2="279.80" y2="390.10" stroke="#1e1e1e" stroke-width="0.9"/>
<line x1="301.80" y1="319.30" x2="301.80" y2="303.38" stroke="#111" stroke-width="1.0"/>
<line x1="300.00" y1="303.38" x2="303.60" y2="303.38" stroke="#111" stroke-width="1.0"/>
<rect x="298.00" y="319.70" width="7.60" height="68.20" fill="#1717e0" stroke="#0c0c8a" stroke-width="0.8"/>
<polygon points="299.30,313.15 302.30,313.15 300.80,310.45" fill="#fff" stroke="#222" stroke-width="0.7"/>
<polygon points="302.10,311.92 305.10,311.92 303.60,309.22" fill="#fff" stroke="#222" stroke-width="0.7"/>
<circle cx="301.80" cy="334.00" r="0.95" fill="#fff" stroke="none" stroke-width="0"/>
<line x1="301.80" y1="387.90" x2="301.80" y2="390.10" stroke="#1e1e1e" stroke-width="0.9"/>
<line x1="314.50" y1="368.30" x2="314.50" y2="365.24" stroke="#111" stroke-width="1.0"/>
<line x1="312.70" y1="365.24" x2="316.30" y2="365.24" stroke="#111" stroke-width="1.0"/>
<rect x="310.70" y="368.70" width="7.60" height="19.20" fill="#27b427" stroke="#14641a" stroke-width="0.8"/>
<polygon points="314.50,363.84 316.20,365.54 314.50,367.24 312.80,365.54" fill="#fff" stroke="#222" stroke-width="0.7"/>
<circle cx="312.90" cy="371.30" r="0.95" fill="#fff" stroke="none" stroke-width="0"/>
<circle cx="316.30" cy="369.90" r="0.95" fill="#fff" stroke="none" stroke-width="0"/>
<line x1="314.50" y1="387.90" x2="314.50" y2="390.10" stroke="#1e1e1e" stroke-width="0.9"/>
<text x="230.00" y="401.20" font-size="7.7" text-anchor="middle" fill="#111">CHLA-255</text>
<text x="270.20" y="401.20" font-size="7.7" text-anchor="middle" fill="#111">LA-N-1</text>
<text x="305.20" y="401.20" font-size="7.7" text-anchor="middle" fill="#111">CHLA-136</text>
<line x1="232.00" y1="355.60" x2="246.50" y2="355.60" stroke="#666" stroke-width="0.8"/>
<line x1="232.00" y1="355.60" x2="232.00" y2="359.40" stroke="#666" stroke-width="0.8"/>
<line x1="246.50" y1="355.60" x2="246.50" y2="373.10" stroke="#666" stroke-width="0.8"/>
<text x="239.25" y="356.55" font-size="7.6" text-anchor="middle" font-weight="bold" fill="#111">***</text>
<line x1="266.50" y1="359.40" x2="280.00" y2="359.40" stroke="#666" stroke-width="0.8"/>
<line x1="266.50" y1="359.40" x2="266.50" y2="365.60" stroke="#666" stroke-width="0.8"/>
<line x1="280.00" y1="359.40" x2="280.00" y2="381.30" stroke="#666" stroke-width="0.8"/>
<text x="273.25" y="360.25" font-size="7.6" text-anchor="middle" font-weight="bold" fill="#111">*</text>
<line x1="301.50" y1="295.20" x2="314.80" y2="295.20" stroke="#666" stroke-width="0.8"/>
<line x1="301.50" y1="295.20" x2="301.50" y2="302.40" stroke="#666" stroke-width="0.8"/>
<line x1="314.80" y1="295.20" x2="314.80" y2="360.40" stroke="#666" stroke-width="0.8"/>
<text x="308.15" y="296.55" font-size="7.6" text-anchor="middle" font-weight="bold" fill="#111">*</text>
<rect x="232.30" y="278.40" width="9.00" height="4.40" fill="#1717e0" stroke="#222" stroke-width="0.6"/>
<text x="245.80" y="283.30" font-size="7.5" text-anchor="start" fill="#111">GD2.28z</text>
<rect x="232.30" y="289.00" width="9.00" height="4.40" fill="#27b427" stroke="#222" stroke-width="0.6"/>
<text x="245.80" y="293.90" font-size="7.5" text-anchor="start" fill="#111">GD2.28z.15</text>
<line x1="366.30" y1="304.85" x2="366.30" y2="378.10" stroke="#1e1e1e" stroke-width="1.1"/>
<line x1="366.30" y1="377.60" x2="423.50" y2="377.60" stroke="#1e1e1e" stroke-width="1.1"/>
<line x1="363.80" y1="377.60" x2="366.30" y2="377.60" stroke="#1e1e1e" stroke-width="1.0"/>
<text x="363.30" y="379.60" font-size="5.6" text-anchor="end" fill="#111">0</text>
<line x1="363.80" y1="353.45" x2="366.30" y2="353.45" stroke="#1e1e1e" stroke-width="1.0"/>
<text x="363.30" y="355.45" font-size="5.6" text-anchor="end" fill="#111">1,000</text>
<line x1="363.80" y1="329.30" x2="366.30" y2="329.30" stroke="#1e1e1e" stroke-width="1.0"/>
<text x="363.30" y="331.30" font-size="5.6" text-anchor="end" fill="#111">2,000</text>
<line x1="363.80" y1="305.15" x2="366.30" y2="305.15" stroke="#1e1e1e" stroke-width="1.0"/>
<text x="363.30" y="307.15" font-size="5.6" text-anchor="end" fill="#111">3,000</text>
<text x="343.60" y="342.50" font-size="6.9" text-anchor="middle" fill="#111" transform="rotate(-90 343.60 342.50)">IFNγ (pg/mL)</text>
<rect x="369.40" y="374.86" width="4.40" height="2.74" fill="#fff" stroke="#111" stroke-width="0.8" rx="1.2"/>
<rect x="376.20" y="376.15" width="5.60" height="1.45" fill="#000" stroke="none" stroke-width="0"/>
<rect x="389.80" y="377.64" width="4.40" height="0.60" fill="#fff" stroke="#111" stroke-width="0.8" rx="1.2"/>
<rect x="396.30" y="341.38" width="5.60" height="36.23" fill="#000" stroke="none" stroke-width="0"/>
<rect x="409.80" y="377.40" width="4.40" height="0.60" fill="#fff" stroke="#111" stroke-width="0.8" rx="1.2"/>
<rect x="416.30" y="310.70" width="5.60" height="66.90" fill="#000" stroke="none" stroke-width="0"/>
<line x1="399.00" y1="341.38" x2="399.00" y2="313.60" stroke="#bbb" stroke-width="0.8"/>
<line x1="398.70" y1="305.50" x2="418.20" y2="305.50" stroke="#666" stroke-width="0.8"/>
<line x1="398.70" y1="305.50" x2="398.70" y2="336.00" stroke="#666" stroke-width="0.8"/>
<line x1="418.20" y1="305.50" x2="418.20" y2="309.00" stroke="#666" stroke-width="0.8"/>
<text x="408.45" y="306.25" font-size="7.4" text-anchor="middle" font-weight="bold" fill="#111">***</text>
<line x1="375.10" y1="377.60" x2="375.10" y2="379.80" stroke="#1e1e1e" stroke-width="0.9"/>
<line x1="395.30" y1="377.60" x2="395.30" y2="379.80" stroke="#1e1e1e" stroke-width="0.9"/>
<line x1="415.50" y1="377.60" x2="415.50" y2="379.80" stroke="#1e1e1e" stroke-width="0.9"/>
<text x="378.60" y="386.20" font-size="7.1" text-anchor="end" fill="#111" transform="rotate(-45 378.60 386.20)">NT</text>
<text x="399.40" y="386.60" font-size="7.1" text-anchor="end" fill="#111" transform="rotate(-45 399.40 386.60)">GD2.28z</text>
<text x="419.60" y="386.00" font-size="7.1" text-anchor="end" fill="#111" transform="rotate(-45 419.60 386.00)">GD2.28z.15</text>
<rect x="363.6" y="282.2" width="7.6" height="4.0" fill="#fff" stroke="#222" stroke-width="0.8" rx="1"/>
<rect x="363.30" y="290.80" width="8.20" height="4.40" fill="#000" stroke="none" stroke-width="0"/>
<text x="373.40" y="286.80" font-size="7.1" text-anchor="start" fill="#111">NKT only</text>
<text x="373.40" y="295.50" font-size="7.1" text-anchor="start" fill="#111">NKT + CHLA-255</text>
<line x1="463.70" y1="287.10" x2="463.70" y2="378.20" stroke="#1e1e1e" stroke-width="1.1"/>
<line x1="463.70" y1="377.70" x2="508.60" y2="377.70" stroke="#1e1e1e" stroke-width="1.1"/>
<line x1="461.10" y1="377.70" x2="463.70" y2="377.70" stroke="#1e1e1e" stroke-width="1.0"/>
<text x="460.50" y="380.20" font-size="6.8" text-anchor="end" fill="#111">0.0</text>
<line x1="461.10" y1="347.60" x2="463.70" y2="347.60" stroke="#1e1e1e" stroke-width="1.0"/>
<text x="460.50" y="350.10" font-size="6.8" text-anchor="end" fill="#111">0.5</text>
<line x1="461.10" y1="317.50" x2="463.70" y2="317.50" stroke="#1e1e1e" stroke-width="1.0"/>
<text x="460.50" y="320.00" font-size="6.8" text-anchor="end" fill="#111">1.0</text>
<line x1="461.10" y1="287.40" x2="463.70" y2="287.40" stroke="#1e1e1e" stroke-width="1.0"/>
<text x="460.50" y="289.90" font-size="6.8" text-anchor="end" fill="#111">1.5</text>
<text x="447.50" y="330.50" font-size="7.6" text-anchor="middle" fill="#111" transform="rotate(-90 447.50 330.50)">Ratio of IFNγ/IL-4</text>
<line x1="476.60" y1="327.73" x2="476.60" y2="318.70" stroke="#1e1e1e" stroke-width="1.0"/>
<line x1="473.60" y1="318.70" x2="479.60" y2="318.70" stroke="#1e1e1e" stroke-width="1.0"/>
<rect x="470.30" y="327.73" width="12.60" height="49.97" fill="#1717e0" stroke="#111" stroke-width="0.8"/>
<line x1="476.60" y1="377.70" x2="476.60" y2="380.00" stroke="#1e1e1e" stroke-width="0.9"/>
<line x1="495.80" y1="305.46" x2="495.80" y2="296.43" stroke="#1e1e1e" stroke-width="1.0"/>
<line x1="492.80" y1="296.43" x2="498.80" y2="296.43" stroke="#1e1e1e" stroke-width="1.0"/>
<rect x="489.50" y="305.46" width="12.60" height="72.24" fill="#27b427" stroke="#111" stroke-width="0.8"/>
<line x1="495.80" y1="377.70" x2="495.80" y2="380.00" stroke="#1e1e1e" stroke-width="0.9"/>
<line x1="472.00" y1="290.40" x2="496.70" y2="290.40" stroke="#333" stroke-width="0.9"/>
<text x="484.30" y="291.65" font-size="7.6" text-anchor="middle" font-weight="bold" fill="#111">***</text>
<text x="480.00" y="386.70" font-size="7.1" text-anchor="end" fill="#111" transform="rotate(-45 480.00 386.70)">GD2.28z</text>
<text x="499.00" y="386.70" font-size="7.1" text-anchor="end" fill="#111" transform="rotate(-45 499.00 386.70)">GD2.28z.15</text>
</svg></body></html>
